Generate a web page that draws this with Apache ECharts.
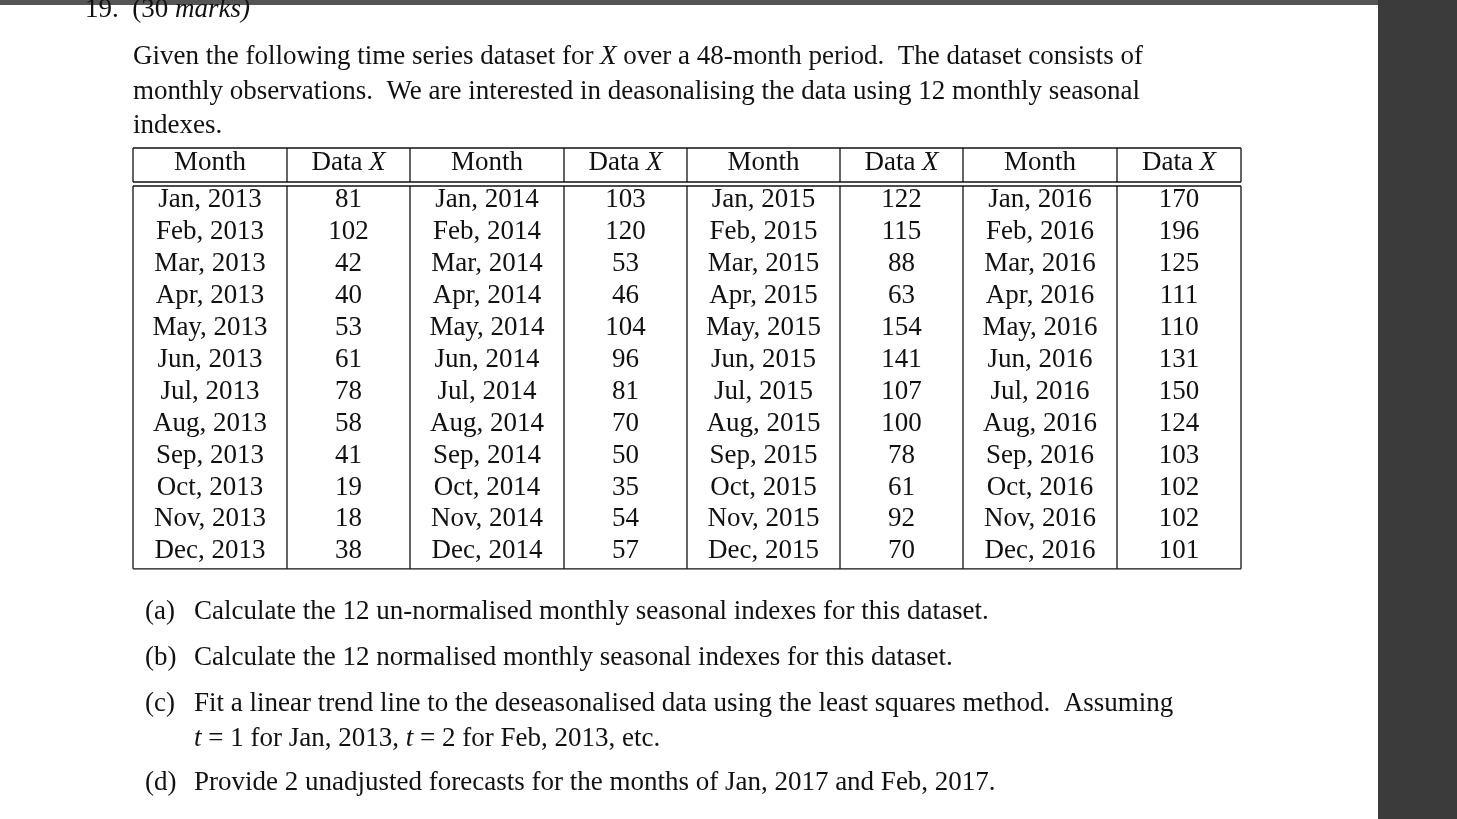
<!DOCTYPE html>
<html><head><meta charset="utf-8">
<script src="https://cdn.jsdelivr.net/npm/echarts@6/dist/echarts.min.js"></script>
<style>html,body{margin:0;padding:0;background:#fff}#c{width:1457px;height:819px}</style>
</head><body><div id="c"></div>
<script>
var months = ['Jan','Feb','Mar','Apr','May','Jun','Jul','Aug','Sep','Oct','Nov','Dec'];
var years = [2013, 2014, 2015, 2016];
var data2013 = [81, 102, 42, 40, 53, 61, 78, 58, 41, 19, 18, 38];
var data2014 = [103, 120, 53, 46, 104, 96, 81, 70, 50, 35, 54, 57];
var data2015 = [122, 115, 88, 63, 154, 141, 107, 100, 78, 61, 92, 70];
var data2016 = [170, 196, 125, 111, 110, 131, 150, 124, 103, 102, 102, 101];
var dataByYear = [data2013, data2014, data2015, data2016];

var intro = [
  '{r|Given the following time series dataset for }{i|X}{r| over a 48-month period.  The dataset consists of}',
  '{r|monthly observations.  We are interested in deasonalising the data using 12 monthly seasonal}',
  '{r|indexes.}'
];
var questions = [
  ['(a)', '{r|Calculate the 12 un-normalised monthly seasonal indexes for this dataset.}'],
  ['(b)', '{r|Calculate the 12 normalised monthly seasonal indexes for this dataset.}'],
  ['(c)', '{r|Fit a linear trend line to the deseasonalised data using the least squares method.  Assuming}',
          '{i|t}{r| = 1 for Jan, 2013, }{i|t}{r| = 2 for Feb, 2013, etc.}'],
  ['(d)', '{r|Provide 2 unadjusted forecasts for the months of Jan, 2017 and Feb, 2017.}']
];

(function(){
var FONT = '"Liberation Serif", serif';
var SIZE = 27;
var rich = {
  r: {fontFamily: FONT, fontSize: SIZE, fill: '#111'},
  i: {fontFamily: FONT, fontSize: SIZE, fontStyle: 'italic', fill: '#111'}
};
var els = [];
function txt(x, y, s, align){
  els.push({type: 'text', x: x, y: y, style: {text: s, rich: rich, font: SIZE + 'px ' + FONT,
    fill: '#111', align: align || 'left', verticalAlign: 'middle'}});
}
function line(x1, y1, x2, y2){
  els.push({type: 'line', shape: {x1: x1, y1: y1, x2: x2, y2: y2}, style: {stroke: '#111', lineWidth: 1.3}});
}

// page chrome
els.push({type: 'rect', shape: {x: 0, y: 0, width: 1378, height: 5}, style: {fill: '#555'}});
els.push({type: 'rect', shape: {x: 1378, y: 0, width: 79, height: 819}, style: {fill: '#3b3b3b'}});
txt(85, 10, '{r|19.  (30 }{i|marks)}');

intro.forEach(function(s, i){ txt(133, 57 + i * 34.5, s); });

// table
var cols = [133, 287, 410, 564, 687, 840, 963, 1117, 1241];
var tTop = 148, headBot = 182, bodyTop = 186, rowH = 31.9;
var tBot = bodyTop + rowH * 12;
cols.forEach(function(x){ line(x, tTop, x, headBot); line(x, bodyTop, x, tBot); });
line(cols[0], tTop, cols[8], tTop);
line(cols[0], headBot, cols[8], headBot);
line(cols[0], bodyTop, cols[8], bodyTop);
line(cols[0], tBot, cols[8], tBot);
years.forEach(function(yr, j){
  var cm = (cols[2 * j] + cols[2 * j + 1]) / 2, cd = (cols[2 * j + 1] + cols[2 * j + 2]) / 2;
  txt(cm, 163, '{r|Month}', 'center');
  txt(cd, 163, '{r|Data }{i|X}', 'center');
  months.forEach(function(m, i){
    var y = bodyTop + rowH * (i + 0.45);
    txt(cm, y, '{r|' + m + ', ' + yr + '}', 'center');
    txt(cd, y, '{r|' + dataByYear[j][i] + '}', 'center');
  });
});

// questions
var qy = [612, 658, 704, 783];
questions.forEach(function(q, i){
  txt(145, qy[i], '{r|' + q[0] + '}');
  txt(194, qy[i], q[1]);
  if (q[2]) txt(194, qy[i] + 35, q[2]);
});

var chart = echarts.init(document.getElementById('c'));
chart.setOption({animation: false, backgroundColor: '#fff', graphic: {elements: els}});
})();
</script></body></html>
